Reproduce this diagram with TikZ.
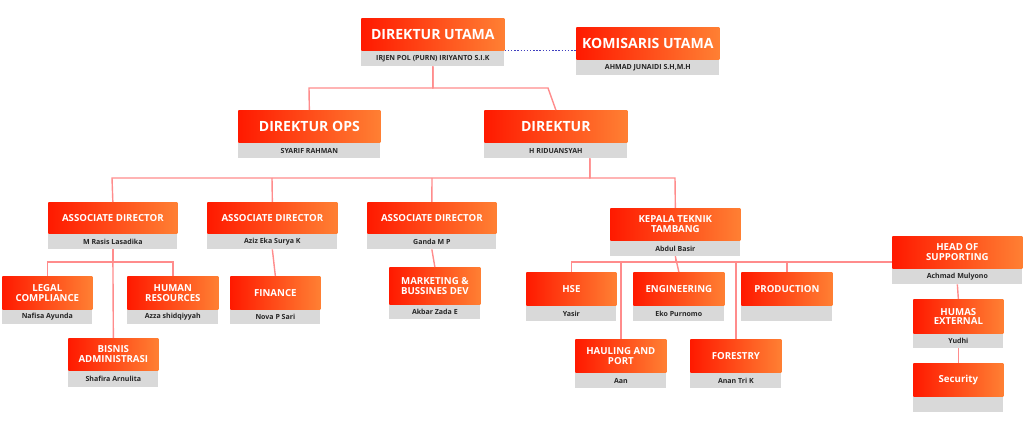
\documentclass[tikz,border=0pt]{standalone}
\usepackage{fontspec}
\setmainfont{Open Sans}
\usepackage{tikz}
\usetikzlibrary{positioning}

\tikzset{
	title/.style={rectangle, inner sep=0pt, left color=red!80!orange, right color=orange!75!red!80, text=white, font=\bfseries, align=center, anchor=north west},
	person/.style={rectangle, inner sep=0pt, fill=gray!30, text=black!85, font=\bfseries\fontsize{4}{5}\selectfont, anchor=north},
	link/.style={draw=red!45, line width=0.8pt}
}
% unit: name, left x, top y, width, title height, person height, title text, person, title size
\newcommand{\unit}[9]{
	\node[title, minimum width=#4*0.02cm, minimum height=#5*0.02cm, font=\bfseries\fontsize{#9}{#9}\selectfont] (#1) at (#2,#3) {#7};
	\node[person, minimum width=#4*0.02cm, minimum height=#6*0.02cm] (#1-p) at (#1.south) {#8};
}

\begin{document}
\begin{tikzpicture}[x=0.02cm, y=-0.02cm]
\useasboundingbox (0,0) rectangle (1024,435);

% top level
\unit{du}{361}{18}{143}{32}{15}{DIREKTUR UTAMA}{IRJEN POL (PURN) IRIYANTO S.I.K}{8}
\unit{ku}{576}{27}{143}{32}{15}{KOMISARIS UTAMA}{AHMAD JUNAIDI S.H,M.H}{8}
\unit{ops}{238}{110}{142}{32}{15}{DIREKTUR OPS}{SYARIF RAHMAN}{8}
\unit{dir}{484}{110}{143}{32}{15}{DIREKTUR}{H RIDUANSYAH}{8}

% associates
\unit{ad1}{48}{202}{129}{31}{15}{ASSOCIATE DIRECTOR}{M Rasis Lasadika}{5.5}
\unit{ad2}{207}{202}{130}{31}{15}{ASSOCIATE DIRECTOR}{Aziz Eka Surya K}{5.5}
\unit{ad3}{367}{202}{129}{31}{15}{ASSOCIATE DIRECTOR}{Ganda M P}{5.5}
\unit{ktt}{610}{208}{130}{32}{15}{KEPALA TEKNIK\\TAMBANG}{Abdul Basir}{5.5}
\unit{hos}{892}{236}{130}{32}{15}{HEAD OF\\SUPPORTING}{Achmad Mulyono}{5.5}

% staff
\unit{legal}{2}{276}{90}{33}{14}{LEGAL\\COMPLIANCE}{Nafisa Ayunda}{5.5}
\unit{hr}{127}{276}{91}{33}{14}{HUMAN\\RESOURCES}{Azza shidqiyyah}{5.5}
\unit{bis}{68}{338}{90}{32}{16}{BISNIS\\ADMINISTRASI}{Shafira Arnulita}{5.5}
\unit{fin}{230}{276}{90}{33}{14}{FINANCE}{Nova P Sari}{5.5}
\unit{mkt}{389}{267}{91}{37}{14}{MARKETING \&\\BUSSINES DEV}{Akbar Zada E}{5.5}
\unit{hse}{526}{272}{90}{33}{15}{HSE}{Yasir}{5.5}
\unit{eng}{633}{272}{91}{33}{15}{ENGINEERING}{Eko Purnomo}{5.5}
\unit{prod}{741}{272}{91}{33}{15}{PRODUCTION}{}{5.5}
\unit{haul}{575}{339}{91}{33}{15}{HAULING AND\\PORT}{Aan}{5.5}
\unit{for}{690}{339}{91}{33}{15}{FORESTRY}{Anan Tri K}{5.5}
\unit{hum}{913}{299}{90}{34}{14}{HUMAS\\EXTERNAL}{Yudhi}{5.5}
\unit{sec}{913}{363}{90}{33}{15}{Security}{}{5.5}

% connectors
\draw[densely dotted, draw=blue!50!gray, line width=0.8pt] (du.south east) -- (du.south east -| ku.west);
\draw[link] (du-p.south) |- (309,88) -- (ops.north);
\draw[link] (du-p.south) |- (548,88) -- (dir.north);
\draw[link] (dir-p.south) ++(34,0) coordinate (dj) |- (112,178) -- (ad1.north);
\draw[link] (dj) |- (675,178) -- (ktt.north);
\draw[link] (ad2.north) -- (272,178);
\draw[link] (ad3.north) -- (432,178);
\draw[link] (ad1-p.south) |- (legal.north |- 0,262) -- (legal.north);
\draw[link] (ad1-p.south) |- (hr.north |- 0,262) -- (hr.north);
\draw[link] (ad1-p.south) -- (bis.north);
\draw[link] (ad2-p.south) -- (fin.north);
\draw[link] (ad3-p.south) -- (mkt.north);
\draw[link] (ktt-p.south) |- (hse.north |- 0,262) -- (hse.north);
\draw[link] (ktt-p.south) |- (hos.west |- 0,262);
\draw[link] (ktt-p.south) -- (eng.north);
\draw[link] (prod.north) -- (prod.north |- 0,262);
\draw[link] (haul.north) -- (haul.north |- 0,262);
\draw[link] (for.north) -- (for.north |- 0,262);
\draw[link] (hos-p.south) -- (hum.north);
\draw[link] (hum-p.south) -- (sec.north);
\end{tikzpicture}
\end{document}
